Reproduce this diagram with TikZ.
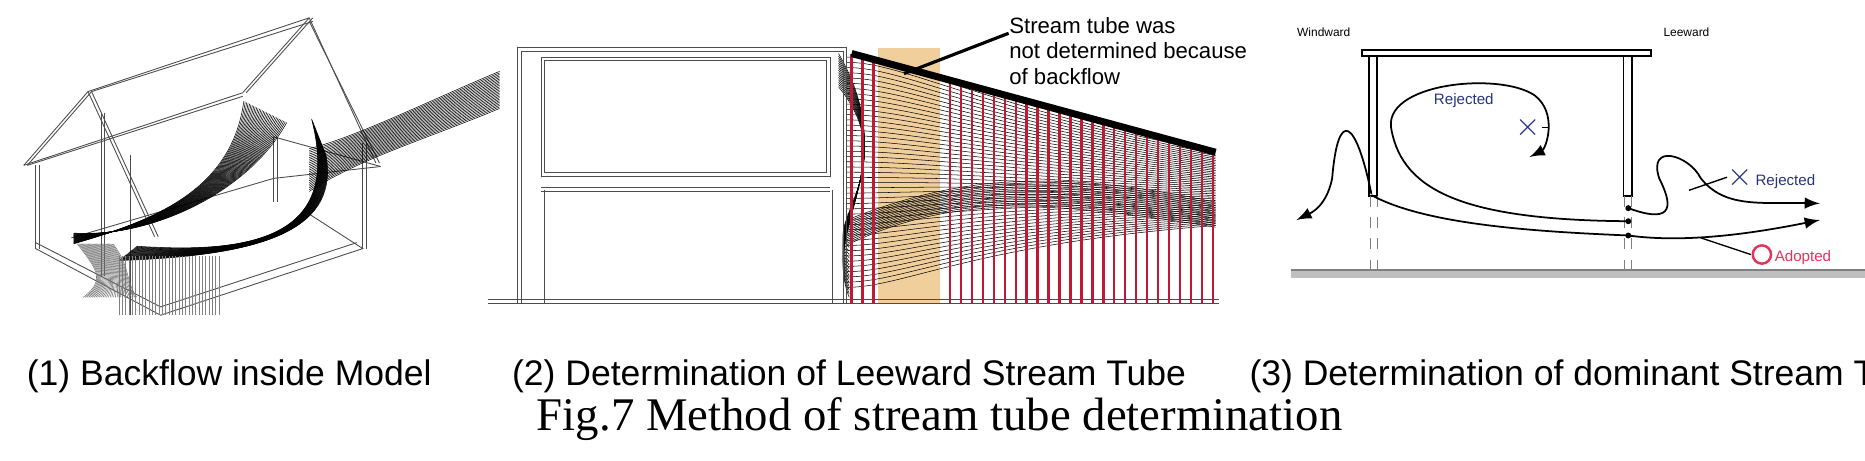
\documentclass[tikz,border=0pt]{standalone}
\usepackage{fontspec}
\setmainfont{Liberation Serif}
\setsansfont{Liberation Sans}
\definecolor{tan}{rgb}{0.93,0.78,0.55}
\definecolor{tubered}{rgb}{0.75,0.1,0.2}
\definecolor{lblue}{rgb}{0.15,0.2,0.5}
\definecolor{adred}{rgb}{0.9,0.2,0.35}
\begin{document}
\begin{tikzpicture}[x=0.011894cm,y=-0.011894cm,
  wire/.style={draw=black!70,line width=0.25pt},
  sl/.style={draw=black,line width=0.15pt},
  captext/.style={font=\sffamily\fontsize{10.1}{12}\selectfont,anchor=base west,inner sep=0},
  small/.style={font=\sffamily\fontsize{3.4}{4}\selectfont,anchor=base west,inner sep=0},
  flow/.style={draw=black,line width=0.5pt},
  arr/.style={flow,-latex}]
\useasboundingbox (0,0) rectangle (1568,387);
\clip (0,0) rectangle (1568,387);
% ===== panel 1 =====
\foreach \d in {0,3}{
  \draw[wire] (20+\d,139) -- (74+\d,77) -- (260+\d,15+\d);
  \draw[wire] (20+\d,139) -- (204,78+\d);
  \draw[wire] (74+\d,77) -- (130+\d,199);
  \draw[wire] (260,15+\d) -- (316+\d,137);
  \draw[wire] (204+\d,78) -- (260+\d,15);
  \draw[wire] (30+\d,139) -- (30+\d,209);
  \draw[wire] (85+\d,95) -- (85+\d,232);
  \draw[wire] (305+\d,120) -- (305+\d,209);
  \draw[wire] (230+\d,115) -- (230+\d,170);
}
\draw[wire] (30,209) -- (135,265) -- (305,209) -- (260,180);
\draw[wire] (30,204) -- (135,258) -- (300,204);
\draw[wire] (60,200) -- (230,150) -- (320,140);
\draw[wire] (110,130) -- (110,265);
\draw[wire] (230,115) -- (320,140);
\foreach \i in {0,...,24}{
  \draw[sl] (420,60+1.3*\i) .. controls (360,85+1.3*\i) and (300,115+0.8*\i) .. (260,125+1.5*\i);
}
\foreach \i in {0,...,30}{
  \draw[sl] (205+1.2*\i,85+0.6*\i) .. controls (195+0.5*\i,160) and (130,185+0.5*\i) .. (62,205-\i*0.3);
}
\foreach \i in {0,...,30}{
  \draw[sl] (262+\i*0.4,100+\i) .. controls (285,190) and (230,215) .. (115-0.5*\i,207+\i*0.4);
}
\foreach \i in {0,...,30}{
  \draw[sl,draw=black!55] (65+\i,205) .. controls (80+\i,225) and (90+0.5*\i,235) .. (70+1.5*\i,250);
  \draw[sl,draw=black!50] (100+2.8*\i,215) -- (100+2.8*\i,265);
}
% ===== panel 2 =====
\fill[tan,opacity=0.85] (738,40) rectangle (790,255);
\foreach \i in {0,...,44}{
  \pgfmathsetmacro{\ya}{48+4.4*\i}
  \draw[sl] (712,\ya) .. controls (760,\ya) and (820,{\ya*0.6+60}) .. (1022,{128+1.4*\i});
}
\foreach \i in {0,...,14}{
  \draw[sl] (712,{185+1.5*\i}) .. controls (800,{150+\i}) and (880,{140+2*\i}) .. (1022,{170+1.5*\i});
}
\foreach \i in {0,...,14}{
  \draw[sl] (714,250-3*\i) .. controls (690,190) and (760,140) .. (705,45+2*\i);
}
\foreach \i in {0,...,33}{
  \pgfmathsetmacro{\xx}{716+9.2*\i}
  \ifdim\xx pt<735pt \draw[tubered,line width=0.7pt] (\xx,{45+0.27*(\xx-716)}) -- (\xx,255);\fi
  \ifdim\xx pt>790pt \draw[tubered,line width=0.7pt] (\xx,{45+0.27*(\xx-716)}) -- (\xx,255);\fi
}
\draw[black,line width=2pt] (716,45) -- (1022,128);
\foreach \d in {0,3}{
  \draw[wire] (410,255-\d) -- (1025,255-\d);
  \draw[wire] (435+\d,40+\d) rectangle (712-\d,255);
  \draw[wire] (455+\d,48+\d) rectangle (698-\d,148-\d);
  \draw[wire] (455,158+\d) -- (698,158+\d);
}
\draw[wire] (458,160) -- (458,255);
\draw[wire] (700,160) -- (700,255);
\node[anchor=north west,align=left,inner sep=0,font=\sffamily\fontsize{6.3}{7.2}\selectfont] (lab) at (848,14)
  {Stream tube was\\not determined because\\of backflow};
\coordinate (labp) at (760,62);
\draw[line width=0.9pt] (848,28) -- (labp);
\node[captext] (c1) at (22,324) {(1) Backflow inside Model};
\node[captext] (c2) at (430,324) {(2) Determination of Leeward Stream Tube};
\node[captext] (c3) at (1050,324) {(3) Determination of dominant Stream Tube};
\node[font=\rmfamily\fontsize{13.3}{15}\selectfont,anchor=base,inner sep=0] (fig) at (790,362) {Fig.7 Method of stream tube determination};
% ===== panel 3 =====
\node[small] (ww) at (1090,31) {Windward};
\node[small] (lw) at (1398,31) {Leeward};
\fill[black!25] (1085,227) rectangle (1568,234);
\draw[black!50,line width=0.4pt] (1085,227) -- (1568,227);
\draw[line width=0.5pt,fill=white] (1145,42) rectangle (1388,47);
\draw[line width=0.5pt,fill=white] (1151,47) rectangle (1158,165);
\draw[line width=0.5pt,fill=white] (1365,47) rectangle (1372,165);
\foreach \x in {1152,1158,1366,1372}{\draw[dashed,black!50,line width=0.3pt] (\x,165) -- (\x,227);}
\coordinate (d1) at (1369,175);
\coordinate (d2) at (1369,186);
\coordinate (d3) at (1369,198);
\foreach \p in {d1,d2,d3}{\fill (\p) circle (2.5);}
\draw[arr] (1153,163) .. controls (1140,100) and (1125,90) .. (1120,150) .. controls (1115,175) and (1100,180) .. (1090,185);
\draw[arr] (d2) .. controls (1230,185) and (1180,160) .. (1170,110) .. controls (1160,70) and (1260,60) .. (1290,80) .. controls (1310,95) and (1300,125) .. (1286,132);
\draw[arr] (1153,164) .. controls (1200,190) and (1300,195) .. (d3) .. controls (1420,205) and (1480,195) .. (1530,185);
\draw[arr] (d1) .. controls (1410,190) and (1405,170) .. (1395,150) .. controls (1385,120) and (1420,130) .. (1430,150) .. controls (1450,175) and (1480,170) .. (1530,171);
\node[font=\sffamily\fontsize{4.3}{5}\selectfont,text=lblue,inner sep=0,anchor=base west] (rj1) at (1205,88) {Rejected};
\node[font=\sffamily\fontsize{9}{9}\selectfont,text=lblue,inner sep=0] (x1) at (1285,107) {$\times$};
\coordinate (x1e) at (1302,107);
\draw[line width=0.4pt] (x1.east) -- (x1e);
\node[font=\sffamily\fontsize{4.3}{5}\selectfont,text=lblue,inner sep=0,anchor=west] (rj2) at (1452,149) {{\fontsize{9}{9}\selectfont$\times$}\,Rejected};
\coordinate (r2e) at (1420,160);
\draw[line width=0.4pt] (rj2.west) -- (r2e);
\node[font=\sffamily\fontsize{4.3}{5}\selectfont,text=adred,inner sep=0,anchor=west] (ad) at (1472,214) {\tikz[baseline=-2pt]\draw[adred,line width=0.7pt] (0,0) circle (2.6pt);\,Adopted};
\coordinate (ade) at (1430,200);
\draw[line width=0.4pt] (ad.west) -- (ade);
\end{tikzpicture}
\end{document}
